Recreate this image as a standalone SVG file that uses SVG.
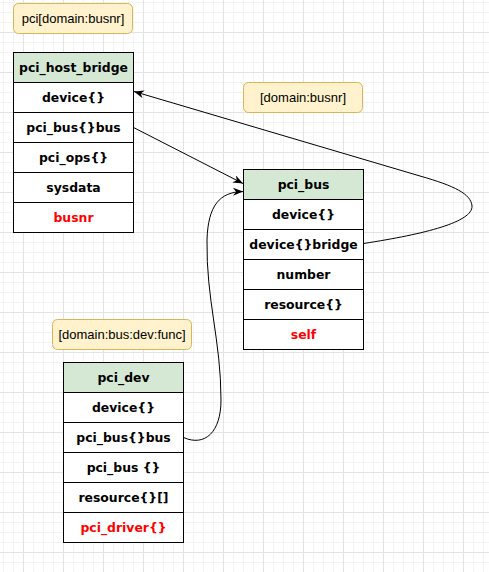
<svg xmlns="http://www.w3.org/2000/svg" width="489" height="572" viewBox="0 0 489 572">
<style>
.lbl{fill:#fff2cc;stroke:#d6b656;stroke-width:1}
.lt{font-family:"Liberation Sans",Arial,sans-serif;font-size:13px;fill:#000;text-anchor:middle}
.hd{fill:#d5e8d4;stroke:#000;stroke-width:1}
.row{fill:#fff;stroke:#000;stroke-width:1}
.t{font-family:"DejaVu Sans",Verdana,sans-serif;font-size:12.4px;font-weight:bold;fill:#000;text-anchor:middle}
.red{fill:#ff0000}
.edge{fill:none;stroke:#000;stroke-width:1}
</style>
<defs>
<pattern id="minor" patternUnits="userSpaceOnUse" x="3" y="2" width="10" height="10">
<rect x="0" y="0" width="1" height="10" fill="#f3f3f3"/>
<rect x="0" y="0" width="10" height="1" fill="#f3f3f3"/>
</pattern>
<pattern id="major" patternUnits="userSpaceOnUse" x="23" y="32" width="40" height="40">
<rect x="0" y="0" width="1" height="40" fill="#e3e3e3"/>
<rect x="0" y="0" width="40" height="1" fill="#e3e3e3"/>
</pattern>
<marker id="arr" markerUnits="userSpaceOnUse" markerWidth="11" markerHeight="9" refX="10" refY="4" orient="auto">
<path d="M0,0 L10,4 L0,8 L3,4 z" fill="#000"/>
</marker>
</defs>
<rect x="0" y="0" width="489" height="572" fill="#fff"/>
<rect x="0" y="0" width="489" height="572" fill="url(#minor)"/>
<rect x="0" y="0" width="489" height="572" fill="url(#major)"/>

<g id="label-pci">
<rect class="lbl" x="13.5" y="3.5" width="119" height="30" rx="5"/>
<text class="lt" x="73" y="23">pci[domain:busnr]</text>
</g>
<g id="label-bus">
<rect class="lbl" x="243.5" y="82.5" width="119" height="30" rx="5"/>
<text class="lt" x="303" y="102">[domain:busnr]</text>
</g>
<g id="label-dev">
<rect class="lbl" x="52.5" y="319.5" width="139" height="30" rx="5"/>
<text class="lt" x="122" y="339">[domain:bus:dev:func]</text>
</g>

<g id="pci_host_bridge">
<rect class="hd" x="13.5" y="52.5" width="120" height="30"/>
<rect class="row" x="13.5" y="82.5" width="120" height="30"/>
<rect class="row" x="13.5" y="112.5" width="120" height="30"/>
<rect class="row" x="13.5" y="142.5" width="120" height="30"/>
<rect class="row" x="13.5" y="172.5" width="120" height="30"/>
<rect class="row" x="13.5" y="202.5" width="120" height="30"/>
<text class="t" x="73.5" y="72">pci_host_bridge</text>
<text class="t" x="73.5" y="102">device{}</text>
<text class="t" x="73.5" y="132">pci_bus{}bus</text>
<text class="t" x="73.5" y="162">pci_ops{}</text>
<text class="t" x="73.5" y="192">sysdata</text>
<text class="t red" x="73.5" y="222">busnr</text>
</g>

<g id="pci_bus">
<rect class="hd" x="243.5" y="169.5" width="120" height="30"/>
<rect class="row" x="243.5" y="199.5" width="120" height="30"/>
<rect class="row" x="243.5" y="229.5" width="120" height="30"/>
<rect class="row" x="243.5" y="259.5" width="120" height="30"/>
<rect class="row" x="243.5" y="289.5" width="120" height="30"/>
<rect class="row" x="243.5" y="319.5" width="120" height="30"/>
<text class="t" x="303.5" y="189">pci_bus</text>
<text class="t" x="303.5" y="219">device{}</text>
<text class="t" x="303.5" y="249">device{}bridge</text>
<text class="t" x="303.5" y="279">number</text>
<text class="t" x="303.5" y="309">resource{}</text>
<text class="t red" x="303.5" y="339">self</text>
</g>

<g id="pci_dev">
<rect class="hd" x="63.5" y="362.5" width="120" height="30"/>
<rect class="row" x="63.5" y="392.5" width="120" height="30"/>
<rect class="row" x="63.5" y="422.5" width="120" height="30"/>
<rect class="row" x="63.5" y="452.5" width="120" height="30"/>
<rect class="row" x="63.5" y="482.5" width="120" height="30"/>
<rect class="row" x="63.5" y="512.5" width="120" height="30"/>
<text class="t" x="123.5" y="382">pci_dev</text>
<text class="t" x="123.5" y="412">device{}</text>
<text class="t" x="123.5" y="442">pci_bus{}bus</text>
<text class="t" x="123.5" y="472">pci_bus {}</text>
<text class="t" x="123.5" y="502">resource{}[]</text>
<text class="t red" x="123.5" y="532">pci_driver{}</text>
</g>

<g id="connectors">
<path class="edge" d="M133.5,127.5 L243,183.5" marker-end="url(#arr)"/>
<path class="edge" d="M183.5,437.5 C205,447 221,432 221,400 C221,340 206,300 207,240 C208,205 220,192 243,191.5" marker-end="url(#arr)"/>
<path class="edge" d="M363.5,243.5 C425,234 473,222 472,206 C471,194 455,186 420,176 L134,91.5" marker-end="url(#arr)"/>
</g>
</svg>
